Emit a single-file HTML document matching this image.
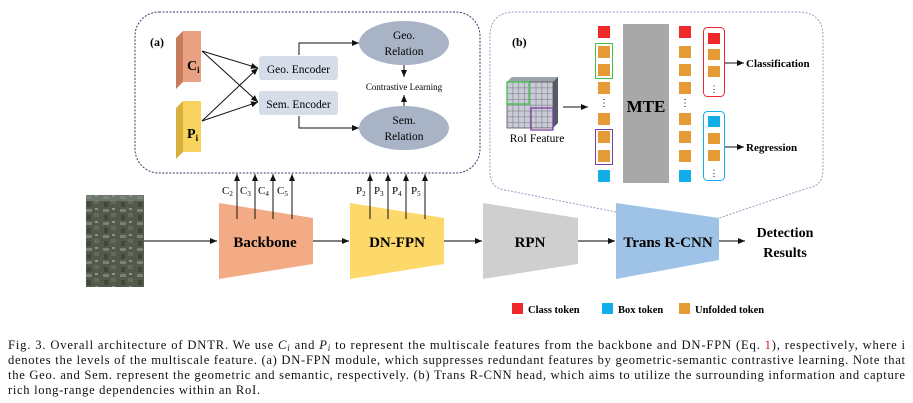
<!DOCTYPE html>
<html><head><meta charset="utf-8"><style>
html,body{margin:0;padding:0;background:#fff;}
svg{display:block;}
text{font-family:"Liberation Serif",serif;}
</style></head><body>
<svg width="913" height="403" viewBox="0 0 913 403" xmlns="http://www.w3.org/2000/svg">
<defs>
<marker id="ar" markerWidth="8" markerHeight="8" refX="7" refY="4" orient="auto" markerUnits="userSpaceOnUse"><path d="M0,1 L7,4 L0,7 Z" fill="#111"/></marker>
<pattern id="sat" width="17" height="13" patternUnits="userSpaceOnUse">
<rect width="17" height="13" fill="#535a4c"/>
<rect x="1" y="1" width="6" height="3" fill="#7d8078"/>
<rect x="9" y="5" width="5" height="4" fill="#646b5b"/>
<rect x="2" y="7" width="4" height="5" fill="#3d4a36"/>
<rect x="10" y="0" width="3" height="2" fill="#8f918a"/>
</pattern>
<pattern id="grid" width="5.8" height="5.8" patternUnits="userSpaceOnUse" x="507" y="82">
<rect width="5.8" height="5.8" fill="#c9ccd6" stroke="#7d808c" stroke-width="0.6"/>
</pattern>
</defs>

<rect x="135" y="12" width="345" height="161" rx="24" fill="none" stroke="#2d3f66" stroke-width="1" stroke-dasharray="2,1.5"/>
<text x="150" y="46" font-size="12" font-weight="bold">(a)</text>
<polygon points="176,38 183,31 183,82 176,89" fill="#c77c5c"/>
<rect x="183" y="31" width="18" height="51" fill="#e8a182"/>
<text x="187" y="70" font-size="14" font-weight="bold">C<tspan font-size="9" dy="3">i</tspan></text>
<polygon points="176,108 183,101 183,152 176,159" fill="#d9b040"/>
<rect x="183" y="101" width="18" height="51" fill="#f7d35e"/>
<text x="187" y="138" font-size="14" font-weight="bold">P<tspan font-size="9" dy="3">i</tspan></text>
<g stroke="#111" stroke-width="1" fill="none" marker-end="url(#ar)">
<line x1="202" y1="51" x2="258" y2="68"/>
<line x1="202" y1="51" x2="258" y2="102"/>
<line x1="202" y1="121" x2="258" y2="68"/>
<line x1="202" y1="121" x2="258" y2="102"/>
<polyline points="299,55 299,43 359,43"/>
<polyline points="299,116 299,128 359,128"/>
<line x1="404" y1="64" x2="404" y2="77"/>
<line x1="404" y1="107" x2="404" y2="95"/>
</g>
<rect x="259" y="56" width="79" height="24" rx="3" fill="#d6dde8"/>
<rect x="259" y="91" width="79" height="24" rx="3" fill="#d6dde8"/>
<text x="298.5" y="73" font-size="11.5" text-anchor="middle">Geo. Encoder</text>
<text x="298.5" y="108" font-size="11.5" text-anchor="middle">Sem. Encoder</text>
<ellipse cx="404" cy="43" rx="45" ry="22" fill="#a9b3c6"/>
<ellipse cx="404" cy="128" rx="45" ry="22" fill="#a9b3c6"/>
<text x="404" y="39" font-size="11.5" text-anchor="middle">Geo.</text>
<text x="404" y="55" font-size="11.5" text-anchor="middle">Relation</text>
<text x="404" y="124" font-size="11.5" text-anchor="middle">Sem.</text>
<text x="404" y="140" font-size="11.5" text-anchor="middle">Relation</text>
<text x="404" y="90" font-size="9" text-anchor="middle">Contrastive Learning</text>

<path d="M515,12 L798,12 Q823,12 823,37 L823,170 Q823,186 808,188 L719,218 M616,212 L505,190 Q490,188 490,172 L490,37 Q490,12 515,12" fill="none" stroke="#8fa0bf" stroke-width="1" stroke-dasharray="2,1.5"/>
<text x="512" y="46" font-size="12" font-weight="bold">(b)</text>
<polygon points="507,82 512,77 558,77 558,123 553,128 553,82" fill="#555a66"/>
<polygon points="507,82 512,77 558,77 553,82" fill="#9ea3ae"/>
<rect x="507" y="82" width="46" height="46" fill="url(#grid)" stroke="#555" stroke-width="0.8"/>
<rect x="507" y="82" width="22" height="22" fill="none" stroke="#3ec44a" stroke-width="1.3"/>
<rect x="531" y="108" width="22" height="22" fill="none" stroke="#7a3fa0" stroke-width="1.3"/>
<text x="537" y="142" font-size="11.5" text-anchor="middle">RoI Feature</text>
<line x1="563" y1="107" x2="588" y2="107" stroke="#111" stroke-width="1" marker-end="url(#ar)"/>
<g>
<rect x="598" y="26" width="12" height="12" fill="#f0272b"/>
<rect x="598" y="46" width="12" height="12" fill="#e69a35"/>
<rect x="598" y="64" width="12" height="12" fill="#e69a35"/>
<rect x="598" y="82" width="12" height="12" fill="#e69a35"/>
<text x="604" y="106" font-size="10" text-anchor="middle">⋮</text>
<rect x="598" y="113" width="12" height="12" fill="#e69a35"/>
<rect x="598" y="131" width="12" height="12" fill="#e69a35"/>
<rect x="598" y="150" width="12" height="12" fill="#e69a35"/>
<rect x="598" y="170" width="12" height="12" fill="#12aeea"/>
<rect x="595.5" y="43.5" width="17" height="35" fill="none" stroke="#3ec44a" stroke-width="1"/>
<rect x="595.5" y="129.5" width="17" height="35" fill="none" stroke="#7a3fa0" stroke-width="1"/>
</g>
<rect x="623" y="24" width="46" height="159" fill="#a8a8a8"/>
<text x="646" y="112" font-size="17" font-weight="bold" text-anchor="middle">MTE</text>
<g>
<rect x="679" y="26" width="12" height="12" fill="#f0272b"/>
<rect x="679" y="46" width="12" height="12" fill="#e69a35"/>
<rect x="679" y="64" width="12" height="12" fill="#e69a35"/>
<rect x="679" y="82" width="12" height="12" fill="#e69a35"/>
<text x="685" y="106" font-size="10" text-anchor="middle">⋮</text>
<rect x="679" y="113" width="12" height="12" fill="#e69a35"/>
<rect x="679" y="131" width="12" height="12" fill="#e69a35"/>
<rect x="679" y="150" width="12" height="12" fill="#e69a35"/>
<rect x="679" y="170" width="12" height="12" fill="#12aeea"/>
</g>
<rect x="703.5" y="27.5" width="21" height="69" rx="4" fill="none" stroke="#f0272b" stroke-width="1"/>
<rect x="708" y="33" width="12" height="11" fill="#f0272b"/>
<rect x="708" y="49" width="12" height="11" fill="#e69a35"/>
<rect x="708" y="66" width="12" height="11" fill="#e69a35"/>
<text x="714" y="92" font-size="9" text-anchor="middle">⋮</text>
<rect x="703.5" y="111.5" width="21" height="69" rx="4" fill="none" stroke="#12aeea" stroke-width="1"/>
<rect x="708" y="116" width="12" height="11" fill="#12aeea"/>
<rect x="708" y="133" width="12" height="11" fill="#e69a35"/>
<rect x="708" y="150" width="12" height="11" fill="#e69a35"/>
<text x="714" y="176" font-size="9" text-anchor="middle">⋮</text>
<line x1="725" y1="63" x2="744" y2="63" stroke="#111" stroke-width="1" marker-end="url(#ar)"/>
<line x1="725" y1="147" x2="744" y2="147" stroke="#111" stroke-width="1" marker-end="url(#ar)"/>
<text x="746" y="67" font-size="11" font-weight="bold">Classification</text>
<text x="746" y="151" font-size="11" font-weight="bold">Regression</text>

<rect x="86" y="195" width="58" height="92" fill="url(#sat)"/>
<rect x="86" y="195" width="58" height="6" fill="#7e8a86" opacity="0.6"/>
<g stroke="#333" stroke-width="1.2" fill="none" marker-end="url(#ar)">
<line x1="144" y1="241" x2="217" y2="241"/>
<line x1="313" y1="241" x2="349" y2="241"/>
<line x1="444" y1="241" x2="482" y2="241"/>
<line x1="578" y1="241" x2="615" y2="241"/>
<line x1="719" y1="241" x2="745" y2="241"/>
</g>
<polygon points="219,203 313,218 313,264 219,279" fill="#f2ab84"/>
<polygon points="350,203 444,218 444,264 350,279" fill="#fcd96a"/>
<polygon points="483,203 578,218 578,264 483,279" fill="#cfcfcf"/>
<polygon points="616,203 719,218 719,260 616,279" fill="#9fc3e6"/>
<g font-size="15" font-weight="bold" text-anchor="middle">
<text x="265" y="247">Backbone</text>
<text x="397" y="247">DN-FPN</text>
<text x="530" y="247">RPN</text>
<text x="668" y="247">Trans R-CNN</text>
<text x="785" y="237" font-size="14">Detection</text>
<text x="785" y="257" font-size="14">Results</text>
</g>
<g stroke="#111" stroke-width="1" marker-end="url(#ar)">
<line x1="237" y1="219" x2="237" y2="174"/>
<line x1="255" y1="219" x2="255" y2="174"/>
<line x1="273" y1="219" x2="273" y2="174"/>
<line x1="292" y1="219" x2="292" y2="174"/>
<line x1="370" y1="219" x2="370" y2="174"/>
<line x1="388" y1="219" x2="388" y2="174"/>
<line x1="406" y1="219" x2="406" y2="174"/>
<line x1="425" y1="219" x2="425" y2="174"/>
</g>
<g font-size="11">
<text x="222" y="194">C<tspan font-size="7" dy="2">2</tspan></text>
<text x="240" y="194">C<tspan font-size="7" dy="2">3</tspan></text>
<text x="258" y="194">C<tspan font-size="7" dy="2">4</tspan></text>
<text x="277" y="194">C<tspan font-size="7" dy="2">5</tspan></text>
<text x="356" y="194">P<tspan font-size="7" dy="2">2</tspan></text>
<text x="374" y="194">P<tspan font-size="7" dy="2">3</tspan></text>
<text x="392" y="194">P<tspan font-size="7" dy="2">4</tspan></text>
<text x="411" y="194">P<tspan font-size="7" dy="2">5</tspan></text>
</g>
<rect x="512" y="303" width="11" height="11" fill="#f0272b"/>
<text x="528" y="313" font-size="10.5" font-weight="bold">Class token</text>
<rect x="602" y="303" width="11" height="11" fill="#12aeea"/>
<text x="618" y="313" font-size="10.5" font-weight="bold">Box token</text>
<rect x="679" y="303" width="11" height="11" fill="#e69a35"/>
<text x="695" y="313" font-size="10.5" font-weight="bold">Unfolded token</text>

<g font-size="12.6" fill="#111">
<text x="8" y="349" textLength="897" lengthAdjust="spacing">Fig. 3.  Overall architecture of DNTR. We use <tspan font-style="italic">C</tspan><tspan font-style="italic" font-size="9" dy="2">i</tspan><tspan dy="-2"> and </tspan><tspan font-style="italic">P</tspan><tspan font-style="italic" font-size="9" dy="2">i</tspan><tspan dy="-2"> to represent the multiscale features from the backbone and DN-FPN (Eq. </tspan><tspan fill="#d02020">1</tspan>), respectively, where i</text>
<text x="8" y="364" textLength="897" lengthAdjust="spacing">denotes the levels of the multiscale feature. (a) DN-FPN module, which suppresses redundant features by geometric-semantic contrastive learning. Note that</text>
<text x="8" y="379" textLength="897" lengthAdjust="spacing">the Geo. and Sem. represent the geometric and semantic, respectively. (b) Trans R-CNN head, which aims to utilize the surrounding information and capture</text>
<text x="8" y="394" textLength="252" lengthAdjust="spacing">rich long-range dependencies within an RoI.</text>
</g>
</svg>
</body></html>
